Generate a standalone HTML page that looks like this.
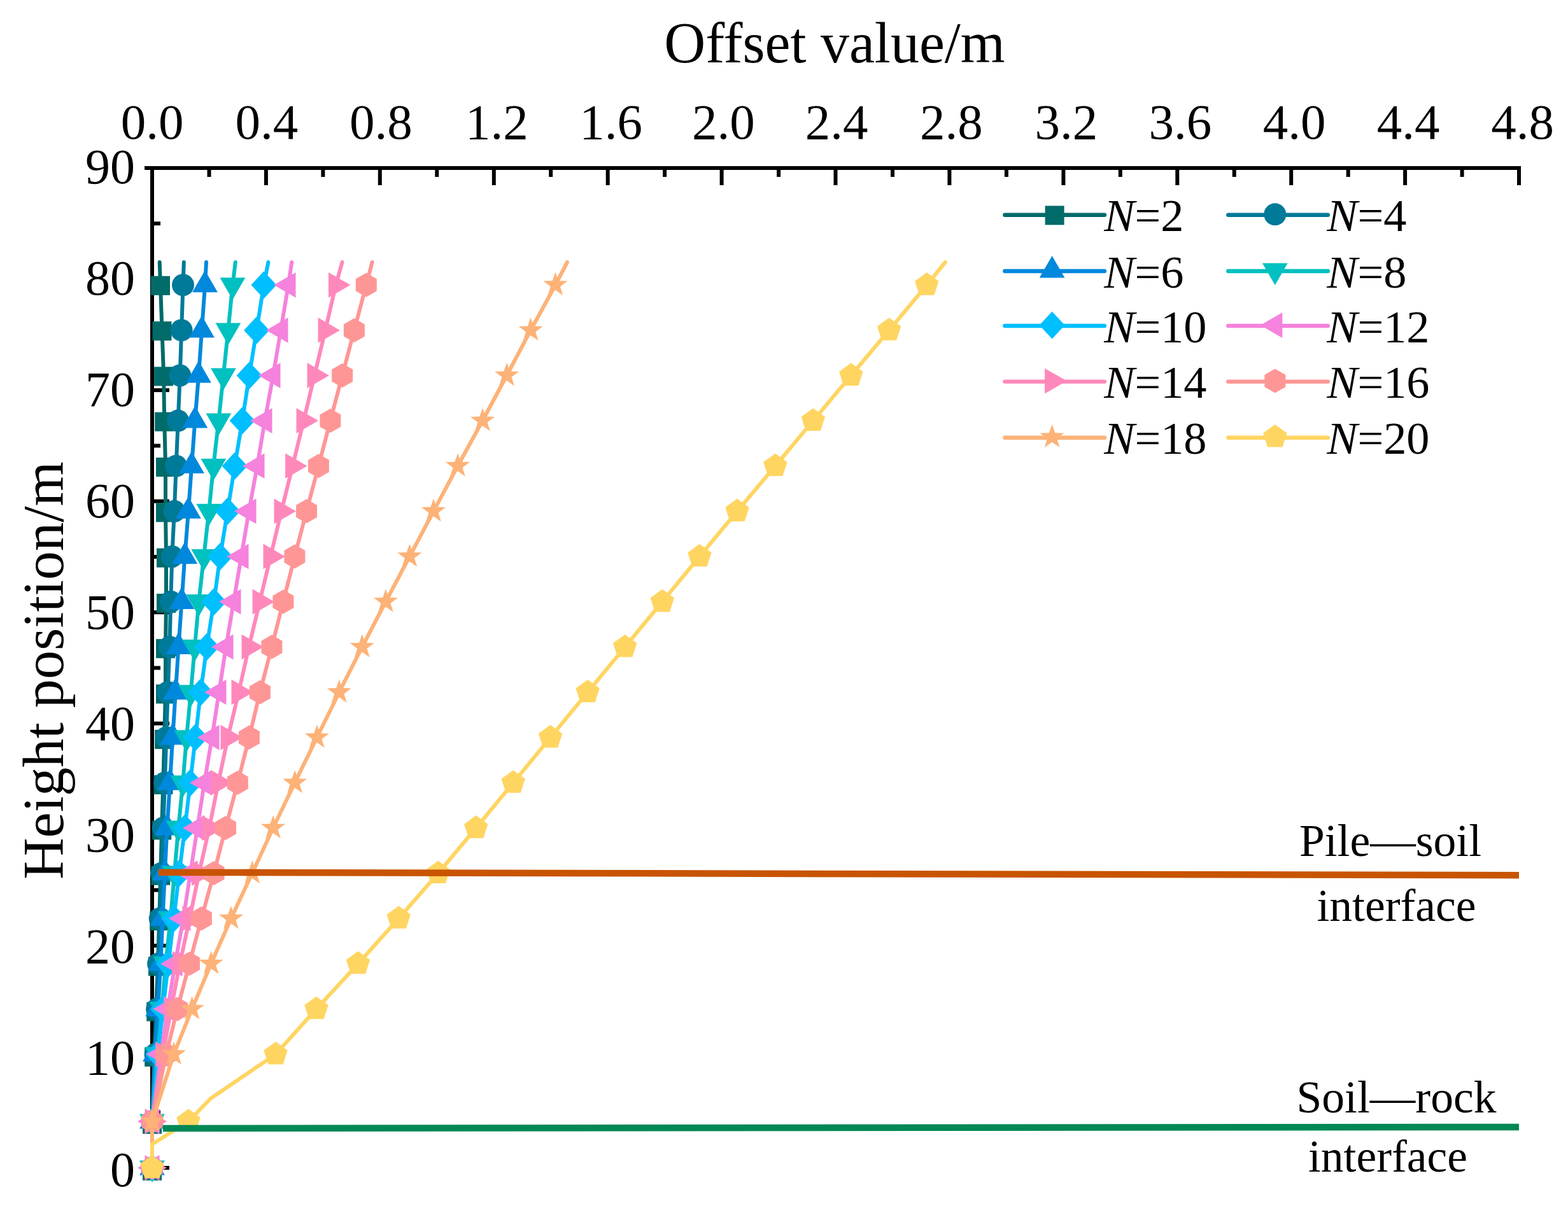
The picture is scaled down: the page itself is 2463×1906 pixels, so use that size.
<!DOCTYPE html>
<html><head><meta charset="utf-8"><title>Offset value vs height position</title>
<style>
html,body{margin:0;padding:0;background:#fff;overflow:hidden}
svg{display:block}
text{font-family:"Liberation Serif","Times New Roman",serif;fill:#000}
</style></head><body>
<svg width="2463" height="1906" viewBox="0 0 2463 1906">
<rect width="2463" height="1906" fill="#fff"/>

<text x="1311" y="98" font-size="90" text-anchor="middle">Offset value/m</text>
<text transform="translate(98.8,1053.4) rotate(-90)" font-size="90.6" text-anchor="middle">Height position/m</text>
<text x="239" y="217.7" font-size="79" text-anchor="middle">0.0</text>
<text x="418.9" y="217.7" font-size="79" text-anchor="middle">0.4</text>
<text x="598.3" y="217.7" font-size="79" text-anchor="middle">0.8</text>
<text x="780.3" y="217.7" font-size="79" text-anchor="middle">1.2</text>
<text x="959.7" y="217.7" font-size="79" text-anchor="middle">1.6</text>
<text x="1136.3" y="217.7" font-size="79" text-anchor="middle">2.0</text>
<text x="1314.1" y="217.7" font-size="79" text-anchor="middle">2.4</text>
<text x="1494.4" y="217.7" font-size="79" text-anchor="middle">2.8</text>
<text x="1674.9" y="217.7" font-size="79" text-anchor="middle">3.2</text>
<text x="1853.8" y="217.7" font-size="79" text-anchor="middle">3.6</text>
<text x="2033.2" y="217.7" font-size="79" text-anchor="middle">4.0</text>
<text x="2212.1" y="217.7" font-size="79" text-anchor="middle">4.4</text>
<text x="2391.5" y="217.7" font-size="79" text-anchor="middle">4.8</text>
<text x="212" y="1863.5" font-size="78" text-anchor="end">0</text>
<text x="212" y="1688.4" font-size="78" text-anchor="end">10</text>
<text x="212" y="1513.3" font-size="78" text-anchor="end">20</text>
<text x="212" y="1338.2" font-size="78" text-anchor="end">30</text>
<text x="212" y="1163" font-size="78" text-anchor="end">40</text>
<text x="212" y="987.9" font-size="78" text-anchor="end">50</text>
<text x="212" y="812.8" font-size="78" text-anchor="end">60</text>
<text x="212" y="637.7" font-size="78" text-anchor="end">70</text>
<text x="212" y="462.6" font-size="78" text-anchor="end">80</text>
<text x="212" y="287.5" font-size="78" text-anchor="end">90</text>
<g stroke="#000" stroke-width="6" fill="none">
<path d="M227,264 H2389"/>
<path d="M239,261 V1838"/>
<path d="M239,264 v27"/>
<path d="M328.5,264 v14"/>
<path d="M417.9,264 v27"/>
<path d="M507.4,264 v14"/>
<path d="M596.8,264 v27"/>
<path d="M686.3,264 v14"/>
<path d="M775.8,264 v27"/>
<path d="M865.2,264 v14"/>
<path d="M954.7,264 v27"/>
<path d="M1044.1,264 v14"/>
<path d="M1133.6,264 v27"/>
<path d="M1223.1,264 v14"/>
<path d="M1312.5,264 v27"/>
<path d="M1402,264 v14"/>
<path d="M1491.4,264 v27"/>
<path d="M1580.9,264 v14"/>
<path d="M1670.4,264 v27"/>
<path d="M1759.8,264 v14"/>
<path d="M1849.3,264 v27"/>
<path d="M1938.7,264 v14"/>
<path d="M2028.2,264 v27"/>
<path d="M2117.7,264 v14"/>
<path d="M2207.1,264 v27"/>
<path d="M2296.6,264 v14"/>
<path d="M2386,264 v27"/>
<path d="M239,1835 h27"/>
<path d="M239,1747.7 h13"/>
<path d="M239,1660.4 h27"/>
<path d="M239,1573.2 h13"/>
<path d="M239,1485.9 h27"/>
<path d="M239,1398.6 h13"/>
<path d="M239,1311.3 h27"/>
<path d="M239,1224 h13"/>
<path d="M239,1136.8 h27"/>
<path d="M239,1049.5 h13"/>
<path d="M239,962.2 h27"/>
<path d="M239,874.9 h13"/>
<path d="M239,787.6 h27"/>
<path d="M239,700.4 h13"/>
<path d="M239,613.1 h27"/>
<path d="M239,525.8 h13"/>
<path d="M239,438.5 h27"/>
<path d="M239,351.2 h13"/>
<path d="M239,264 h27"/>
</g>
<g fill="#006b69"><path d="M250.7,412 L252,447.8 L254.5,518.9 L257.1,590 L258.2,661.1 L260,732.2 L260,803.3 L261,874.4 L261,945.5 L260,1016.6 L260,1087.7 L258.2,1158.8 L256.4,1229.9 L254.2,1301 L252.3,1372.1 L250.2,1443.2 L248,1514.3 L245.2,1585.4 L242.2,1656.5 L239,1762 L239,1835" fill="none" stroke="#006b69" stroke-width="6" stroke-linejoin="round" stroke-linecap="round"/>
<rect x="237" y="433.8" width="30" height="30"/>
<rect x="239.5" y="505.1" width="30" height="30"/>
<rect x="242.1" y="576.4" width="30" height="30"/>
<rect x="243.2" y="647.7" width="30" height="30"/>
<rect x="245" y="719" width="30" height="30"/>
<rect x="245" y="790.3" width="30" height="30"/>
<rect x="246" y="861.6" width="30" height="30"/>
<rect x="246" y="932.9" width="30" height="30"/>
<rect x="245" y="1004.2" width="30" height="30"/>
<rect x="245" y="1075.5" width="30" height="30"/>
<rect x="243.2" y="1146.8" width="30" height="30"/>
<rect x="241.4" y="1218.1" width="30" height="30"/>
<rect x="239.2" y="1289.4" width="30" height="30"/>
<rect x="237.3" y="1360.7" width="30" height="30"/>
<rect x="235.2" y="1432" width="30" height="30"/>
<rect x="233" y="1503.3" width="30" height="30"/>
<rect x="230.2" y="1574.6" width="30" height="30"/>
<rect x="227.2" y="1645.9" width="30" height="30"/>
<rect x="224" y="1751.6" width="30" height="30"/>
<rect x="224" y="1824.8" width="30" height="30"/>
</g>
<g fill="#007a99"><path d="M288.8,412 L287.5,447.8 L285.1,518.9 L282.7,590 L279.7,661.1 L276.7,732.2 L273.8,803.3 L270.3,874.4 L268.2,945.5 L266.4,1016.6 L263.6,1087.7 L261.2,1158.8 L258.9,1229.9 L256.3,1301 L253.7,1372.1 L251.3,1443.2 L248.6,1514.3 L246.6,1585.4 L244,1656.5 L239,1762 L239,1835" fill="none" stroke="#007a99" stroke-width="6" stroke-linejoin="round" stroke-linecap="round"/>
<circle cx="287.5" cy="447.8" r="17.5"/>
<circle cx="285.1" cy="518.9" r="17.5"/>
<circle cx="282.7" cy="590" r="17.5"/>
<circle cx="279.7" cy="661.1" r="17.5"/>
<circle cx="276.7" cy="732.2" r="17.5"/>
<circle cx="273.8" cy="803.3" r="17.5"/>
<circle cx="270.3" cy="874.4" r="17.5"/>
<circle cx="268.2" cy="945.5" r="17.5"/>
<circle cx="266.4" cy="1016.6" r="17.5"/>
<circle cx="263.6" cy="1087.7" r="17.5"/>
<circle cx="261.2" cy="1158.8" r="17.5"/>
<circle cx="258.9" cy="1229.9" r="17.5"/>
<circle cx="256.3" cy="1301" r="17.5"/>
<circle cx="253.7" cy="1372.1" r="17.5"/>
<circle cx="251.3" cy="1443.2" r="17.5"/>
<circle cx="248.6" cy="1514.3" r="17.5"/>
<circle cx="246.6" cy="1585.4" r="17.5"/>
<circle cx="244" cy="1656.5" r="17.5"/>
<circle cx="239" cy="1762" r="17.5"/>
<circle cx="239" cy="1835" r="17.5"/>
</g>
<g fill="#0088dd"><path d="M324,412 L322,447.8 L317,518.9 L312,590 L306.3,661.1 L301,732.2 L295.9,803.3 L290.3,874.4 L285.4,945.5 L280.4,1016.6 L275.8,1087.7 L271.2,1158.8 L267,1229.9 L262.5,1301 L258.9,1372.1 L255.5,1443.2 L252.4,1514.3 L248.1,1585.4 L243.9,1656.5 L239,1762 L239,1835" fill="none" stroke="#0088dd" stroke-width="6" stroke-linejoin="round" stroke-linecap="round"/>
<polygon points="322,424.8 341.9,459.3 302.1,459.3"/>
<polygon points="317,495.9 336.9,530.4 297.1,530.4"/>
<polygon points="312,567 331.9,601.5 292.1,601.5"/>
<polygon points="306.3,638.1 326.2,672.6 286.4,672.6"/>
<polygon points="301,709.2 320.9,743.7 281.1,743.7"/>
<polygon points="295.9,780.3 315.8,814.8 276,814.8"/>
<polygon points="290.3,851.4 310.2,885.9 270.4,885.9"/>
<polygon points="285.4,922.5 305.3,957 265.5,957"/>
<polygon points="280.4,993.6 300.3,1028.1 260.5,1028.1"/>
<polygon points="275.8,1064.7 295.7,1099.2 255.9,1099.2"/>
<polygon points="271.2,1135.8 291.1,1170.3 251.3,1170.3"/>
<polygon points="267,1206.9 286.9,1241.4 247.1,1241.4"/>
<polygon points="262.5,1278 282.4,1312.5 242.6,1312.5"/>
<polygon points="258.9,1349.1 278.8,1383.6 239,1383.6"/>
<polygon points="255.5,1420.2 275.4,1454.7 235.6,1454.7"/>
<polygon points="252.4,1491.3 272.3,1525.8 232.5,1525.8"/>
<polygon points="248.1,1562.4 268,1596.9 228.2,1596.9"/>
<polygon points="243.9,1633.5 263.8,1668 224,1668"/>
<polygon points="239,1739 258.9,1773.5 219.1,1773.5"/>
<polygon points="239,1812 258.9,1846.5 219.1,1846.5"/>
</g>
<g fill="#00c0c0"><path d="M369.8,412 L365.4,447.8 L358.4,518.9 L350.9,590 L343.4,661.1 L335.3,732.2 L328.2,803.3 L320.2,874.4 L312.3,945.5 L305.9,1016.6 L299.8,1087.7 L293,1158.8 L287.2,1229.9 L280.2,1301 L274,1372.1 L267.9,1443.2 L260.2,1514.3 L254.3,1585.4 L247.2,1656.5 L239,1762 L239,1835" fill="none" stroke="#00c0c0" stroke-width="6" stroke-linejoin="round" stroke-linecap="round"/>
<polygon points="365.4,470.8 345.5,436.3 385.3,436.3"/>
<polygon points="358.4,541.9 338.5,507.4 378.3,507.4"/>
<polygon points="350.9,613 331,578.5 370.8,578.5"/>
<polygon points="343.4,684.1 323.5,649.6 363.3,649.6"/>
<polygon points="335.3,755.2 315.4,720.7 355.2,720.7"/>
<polygon points="328.2,826.3 308.3,791.8 348.1,791.8"/>
<polygon points="320.2,897.4 300.3,862.9 340.1,862.9"/>
<polygon points="312.3,968.5 292.4,934 332.2,934"/>
<polygon points="305.9,1039.6 286,1005.1 325.8,1005.1"/>
<polygon points="299.8,1110.7 279.9,1076.2 319.7,1076.2"/>
<polygon points="293,1181.8 273.1,1147.3 312.9,1147.3"/>
<polygon points="287.2,1252.9 267.3,1218.4 307.1,1218.4"/>
<polygon points="280.2,1324 260.3,1289.5 300.1,1289.5"/>
<polygon points="274,1395.1 254.1,1360.6 293.9,1360.6"/>
<polygon points="267.9,1466.2 248,1431.7 287.8,1431.7"/>
<polygon points="260.2,1537.3 240.3,1502.8 280.1,1502.8"/>
<polygon points="254.3,1608.4 234.4,1573.9 274.2,1573.9"/>
<polygon points="247.2,1679.5 227.3,1645 267.1,1645"/>
<polygon points="239,1785 219.1,1750.5 258.9,1750.5"/>
<polygon points="239,1858 219.1,1823.5 258.9,1823.5"/>
</g>
<g fill="#00bfff"><path d="M421.4,412 L414.4,447.8 L403.1,518.9 L391.6,590 L380.6,661.1 L368.7,732.2 L357.5,803.3 L345.8,874.4 L336,945.5 L324.8,1016.6 L315.2,1087.7 L307,1158.8 L298.8,1229.9 L290.4,1301 L281.5,1372.1 L273,1443.2 L264.4,1514.3 L256,1585.4 L248.2,1656.5 L239,1762 L239,1835" fill="none" stroke="#00bfff" stroke-width="6" stroke-linejoin="round" stroke-linecap="round"/>
<polygon points="414.4,426.3 434.4,447.8 414.4,469.3 394.4,447.8"/>
<polygon points="403.1,497.4 423.1,518.9 403.1,540.4 383.1,518.9"/>
<polygon points="391.6,568.5 411.6,590 391.6,611.5 371.6,590"/>
<polygon points="380.6,639.6 400.6,661.1 380.6,682.6 360.6,661.1"/>
<polygon points="368.7,710.7 388.7,732.2 368.7,753.7 348.7,732.2"/>
<polygon points="357.5,781.8 377.5,803.3 357.5,824.8 337.5,803.3"/>
<polygon points="345.8,852.9 365.8,874.4 345.8,895.9 325.8,874.4"/>
<polygon points="336,924 356,945.5 336,967 316,945.5"/>
<polygon points="324.8,995.1 344.8,1016.6 324.8,1038.1 304.8,1016.6"/>
<polygon points="315.2,1066.2 335.2,1087.7 315.2,1109.2 295.2,1087.7"/>
<polygon points="307,1137.3 327,1158.8 307,1180.3 287,1158.8"/>
<polygon points="298.8,1208.4 318.8,1229.9 298.8,1251.4 278.8,1229.9"/>
<polygon points="290.4,1279.5 310.4,1301 290.4,1322.5 270.4,1301"/>
<polygon points="281.5,1350.6 301.5,1372.1 281.5,1393.6 261.5,1372.1"/>
<polygon points="273,1421.7 293,1443.2 273,1464.7 253,1443.2"/>
<polygon points="264.4,1492.8 284.4,1514.3 264.4,1535.8 244.4,1514.3"/>
<polygon points="256,1563.9 276,1585.4 256,1606.9 236,1585.4"/>
<polygon points="248.2,1635 268.2,1656.5 248.2,1678 228.2,1656.5"/>
<polygon points="239,1740.5 259,1762 239,1783.5 219,1762"/>
<polygon points="239,1813.5 259,1835 239,1856.5 219,1835"/>
</g>
<g fill="#f582dc"><path d="M458.2,412 L453,447.8 L441,518.9 L429,590 L416,661.1 L404,732.2 L391,803.3 L379,874.4 L367,945.5 L355,1016.6 L344,1087.7 L333,1158.8 L321,1229.9 L310,1301 L299,1372.1 L288,1443.2 L275,1514.3 L263.5,1585.4 L253,1656.5 L239,1762 L239,1835" fill="none" stroke="#f582dc" stroke-width="6" stroke-linejoin="round" stroke-linecap="round"/>
<polygon points="430,447.8 464.5,427.9 464.5,467.7"/>
<polygon points="418,518.9 452.5,499 452.5,538.8"/>
<polygon points="406,590 440.5,570.1 440.5,609.9"/>
<polygon points="393,661.1 427.5,641.2 427.5,681"/>
<polygon points="381,732.2 415.5,712.3 415.5,752.1"/>
<polygon points="368,803.3 402.5,783.4 402.5,823.2"/>
<polygon points="356,874.4 390.5,854.5 390.5,894.3"/>
<polygon points="344,945.5 378.5,925.6 378.5,965.4"/>
<polygon points="332,1016.6 366.5,996.7 366.5,1036.5"/>
<polygon points="321,1087.7 355.5,1067.8 355.5,1107.6"/>
<polygon points="310,1158.8 344.5,1138.9 344.5,1178.7"/>
<polygon points="298,1229.9 332.5,1210 332.5,1249.8"/>
<polygon points="287,1301 321.5,1281.1 321.5,1320.9"/>
<polygon points="276,1372.1 310.5,1352.2 310.5,1392"/>
<polygon points="265,1443.2 299.5,1423.3 299.5,1463.1"/>
<polygon points="252,1514.3 286.5,1494.4 286.5,1534.2"/>
<polygon points="240.5,1585.4 275,1565.5 275,1605.3"/>
<polygon points="230,1656.5 264.5,1636.6 264.5,1676.4"/>
<polygon points="216,1762 250.5,1742.1 250.5,1781.9"/>
<polygon points="216,1835 250.5,1815.1 250.5,1854.9"/>
</g>
<g fill="#ff88bb"><path d="M537.5,412 L527.5,447.8 L511,518.9 L494,590 L477,661.1 L459.6,732.2 L442,803.3 L425,874.4 L408,945.5 L391,1016.6 L375,1087.7 L358,1158.8 L343,1229.9 L328.7,1301 L312.7,1372.1 L297.9,1443.2 L282.5,1514.3 L268.8,1585.4 L255.8,1656.5 L239,1762 L239,1835" fill="none" stroke="#ff88bb" stroke-width="6" stroke-linejoin="round" stroke-linecap="round"/>
<polygon points="550.5,447.8 516,467.7 516,427.9"/>
<polygon points="534,518.9 499.5,538.8 499.5,499"/>
<polygon points="517,590 482.5,609.9 482.5,570.1"/>
<polygon points="500,661.1 465.5,681 465.5,641.2"/>
<polygon points="482.6,732.2 448.1,752.1 448.1,712.3"/>
<polygon points="465,803.3 430.5,823.2 430.5,783.4"/>
<polygon points="448,874.4 413.5,894.3 413.5,854.5"/>
<polygon points="431,945.5 396.5,965.4 396.5,925.6"/>
<polygon points="414,1016.6 379.5,1036.5 379.5,996.7"/>
<polygon points="398,1087.7 363.5,1107.6 363.5,1067.8"/>
<polygon points="381,1158.8 346.5,1178.7 346.5,1138.9"/>
<polygon points="366,1229.9 331.5,1249.8 331.5,1210"/>
<polygon points="351.7,1301 317.2,1320.9 317.2,1281.1"/>
<polygon points="335.7,1372.1 301.2,1392 301.2,1352.2"/>
<polygon points="320.9,1443.2 286.4,1463.1 286.4,1423.3"/>
<polygon points="305.5,1514.3 271,1534.2 271,1494.4"/>
<polygon points="291.8,1585.4 257.3,1605.3 257.3,1565.5"/>
<polygon points="278.8,1656.5 244.3,1676.4 244.3,1636.6"/>
<polygon points="262,1762 227.5,1781.9 227.5,1742.1"/>
<polygon points="262,1835 227.5,1854.9 227.5,1815.1"/>
</g>
<g fill="#ff9696"><path d="M584.6,412 L575.3,447.8 L556.4,518.9 L537.7,590 L518.9,661.1 L500.4,732.2 L481.5,803.3 L462.9,874.4 L444.9,945.5 L426.9,1016.6 L408.4,1087.7 L391.4,1158.8 L373.3,1229.9 L354.4,1301 L336,1372.1 L316.4,1443.2 L297.5,1514.3 L278.6,1585.4 L261,1656.5 L239,1762 L239,1835" fill="none" stroke="#ff9696" stroke-width="6" stroke-linejoin="round" stroke-linecap="round"/>
<polygon points="575.3,428.8 591.8,438.3 591.8,457.3 575.3,466.8 558.8,457.3 558.8,438.3"/>
<polygon points="556.4,499.9 572.9,509.4 572.9,528.4 556.4,537.9 539.9,528.4 539.9,509.4"/>
<polygon points="537.7,571 554.2,580.5 554.2,599.5 537.7,609 521.2,599.5 521.2,580.5"/>
<polygon points="518.9,642.1 535.4,651.6 535.4,670.6 518.9,680.1 502.4,670.6 502.4,651.6"/>
<polygon points="500.4,713.2 516.9,722.7 516.9,741.7 500.4,751.2 483.9,741.7 483.9,722.7"/>
<polygon points="481.5,784.3 498,793.8 498,812.8 481.5,822.3 465,812.8 465,793.8"/>
<polygon points="462.9,855.4 479.4,864.9 479.4,883.9 462.9,893.4 446.4,883.9 446.4,864.9"/>
<polygon points="444.9,926.5 461.4,936 461.4,955 444.9,964.5 428.4,955 428.4,936"/>
<polygon points="426.9,997.6 443.4,1007.1 443.4,1026.1 426.9,1035.6 410.4,1026.1 410.4,1007.1"/>
<polygon points="408.4,1068.7 424.9,1078.2 424.9,1097.2 408.4,1106.7 391.9,1097.2 391.9,1078.2"/>
<polygon points="391.4,1139.8 407.9,1149.3 407.9,1168.3 391.4,1177.8 374.9,1168.3 374.9,1149.3"/>
<polygon points="373.3,1210.9 389.8,1220.4 389.8,1239.4 373.3,1248.9 356.8,1239.4 356.8,1220.4"/>
<polygon points="354.4,1282 370.9,1291.5 370.9,1310.5 354.4,1320 337.9,1310.5 337.9,1291.5"/>
<polygon points="336,1353.1 352.5,1362.6 352.5,1381.6 336,1391.1 319.5,1381.6 319.5,1362.6"/>
<polygon points="316.4,1424.2 332.9,1433.7 332.9,1452.7 316.4,1462.2 299.9,1452.7 299.9,1433.7"/>
<polygon points="297.5,1495.3 314,1504.8 314,1523.8 297.5,1533.3 281,1523.8 281,1504.8"/>
<polygon points="278.6,1566.4 295.1,1575.9 295.1,1594.9 278.6,1604.4 262.1,1594.9 262.1,1575.9"/>
<polygon points="261,1637.5 277.5,1647 277.5,1666 261,1675.5 244.5,1666 244.5,1647"/>
<polygon points="239,1743 255.5,1752.5 255.5,1771.5 239,1781 222.5,1771.5 222.5,1752.5"/>
<polygon points="239,1816 255.5,1825.5 255.5,1844.5 239,1854 222.5,1844.5 222.5,1825.5"/>
</g>
<g fill="#fdb277"><path d="M891,412 L872.4,447.8 L833.6,518.9 L796,590 L758,661.1 L719,732.2 L681,803.3 L643.4,874.4 L605.9,945.5 L568.8,1016.6 L532.8,1087.7 L497.9,1158.8 L463.1,1229.9 L429,1301 L396.2,1372.1 L362.9,1443.2 L331.6,1514.3 L301.6,1585.4 L273,1656.5 L239,1762 L239,1835" fill="none" stroke="#fdb277" stroke-width="6" stroke-linejoin="round" stroke-linecap="round"/>
<polygon points="872.4,427.8 877.1,441.3 891.4,441.6 880,450.3 884.2,464 872.4,455.8 860.6,464 864.8,450.3 853.4,441.6 867.7,441.3"/>
<polygon points="833.6,498.9 838.3,512.4 852.6,512.7 841.2,521.4 845.4,535.1 833.6,526.9 821.8,535.1 826,521.4 814.6,512.7 828.9,512.4"/>
<polygon points="796,570 800.7,583.5 815,583.8 803.6,592.5 807.8,606.2 796,598 784.2,606.2 788.4,592.5 777,583.8 791.3,583.5"/>
<polygon points="758,641.1 762.7,654.6 777,654.9 765.6,663.6 769.8,677.3 758,669.1 746.2,677.3 750.4,663.6 739,654.9 753.3,654.6"/>
<polygon points="719,712.2 723.7,725.7 738,726 726.6,734.7 730.8,748.4 719,740.2 707.2,748.4 711.4,734.7 700,726 714.3,725.7"/>
<polygon points="681,783.3 685.7,796.8 700,797.1 688.6,805.8 692.8,819.5 681,811.3 669.2,819.5 673.4,805.8 662,797.1 676.3,796.8"/>
<polygon points="643.4,854.4 648.1,867.9 662.4,868.2 651,876.9 655.2,890.6 643.4,882.4 631.6,890.6 635.8,876.9 624.4,868.2 638.7,867.9"/>
<polygon points="605.9,925.5 610.6,939 624.9,939.3 613.5,948 617.7,961.7 605.9,953.5 594.1,961.7 598.3,948 586.9,939.3 601.2,939"/>
<polygon points="568.8,996.6 573.5,1010.1 587.8,1010.4 576.4,1019.1 580.6,1032.8 568.8,1024.6 557,1032.8 561.2,1019.1 549.8,1010.4 564.1,1010.1"/>
<polygon points="532.8,1067.7 537.5,1081.2 551.8,1081.5 540.4,1090.2 544.6,1103.9 532.8,1095.7 521,1103.9 525.2,1090.2 513.8,1081.5 528.1,1081.2"/>
<polygon points="497.9,1138.8 502.6,1152.3 516.9,1152.6 505.5,1161.3 509.7,1175 497.9,1166.8 486.1,1175 490.3,1161.3 478.9,1152.6 493.2,1152.3"/>
<polygon points="463.1,1209.9 467.8,1223.4 482.1,1223.7 470.7,1232.4 474.9,1246.1 463.1,1237.9 451.3,1246.1 455.5,1232.4 444.1,1223.7 458.4,1223.4"/>
<polygon points="429,1281 433.7,1294.5 448,1294.8 436.6,1303.5 440.8,1317.2 429,1309 417.2,1317.2 421.4,1303.5 410,1294.8 424.3,1294.5"/>
<polygon points="396.2,1352.1 400.9,1365.6 415.2,1365.9 403.8,1374.6 408,1388.3 396.2,1380.1 384.4,1388.3 388.6,1374.6 377.2,1365.9 391.5,1365.6"/>
<polygon points="362.9,1423.2 367.6,1436.7 381.9,1437 370.5,1445.7 374.7,1459.4 362.9,1451.2 351.1,1459.4 355.3,1445.7 343.9,1437 358.2,1436.7"/>
<polygon points="331.6,1494.3 336.3,1507.8 350.6,1508.1 339.2,1516.8 343.4,1530.5 331.6,1522.3 319.8,1530.5 324,1516.8 312.6,1508.1 326.9,1507.8"/>
<polygon points="301.6,1565.4 306.3,1578.9 320.6,1579.2 309.2,1587.9 313.4,1601.6 301.6,1593.4 289.8,1601.6 294,1587.9 282.6,1579.2 296.9,1578.9"/>
<polygon points="273,1636.5 277.7,1650 292,1650.3 280.6,1659 284.8,1672.7 273,1664.5 261.2,1672.7 265.4,1659 254,1650.3 268.3,1650"/>
<polygon points="239,1742 243.7,1755.5 258,1755.8 246.6,1764.5 250.8,1778.2 239,1770 227.2,1778.2 231.4,1764.5 220,1755.8 234.3,1755.5"/>
<polygon points="239,1815 243.7,1828.5 258,1828.8 246.6,1837.5 250.8,1851.2 239,1843 227.2,1851.2 231.4,1837.5 220,1828.8 234.3,1828.5"/>
</g>
<g fill="#ffd562"><path d="M1484.8,412 L1455.8,447.8 L1396.6,518.9 L1336.8,590 L1277.3,661.1 L1217.8,732.2 L1158,803.3 L1098.9,874.4 L1040.3,945.5 L981.7,1016.6 L923.1,1087.7 L864.6,1158.8 L806.2,1229.9 L747.7,1301 L688.3,1372.1 L626.2,1443.2 L562.5,1514.3 L497,1585.4 L433,1656.5 L331,1726 L296,1762 L239,1798 L239,1835" fill="none" stroke="#ffd562" stroke-width="6" stroke-linejoin="round" stroke-linecap="round"/>
<polygon points="1455.8,428.1 1474.5,441.7 1467.4,463.7 1444.2,463.7 1437.1,441.7"/>
<polygon points="1396.6,499.2 1415.3,512.8 1408.2,534.8 1385,534.8 1377.9,512.8"/>
<polygon points="1336.8,570.3 1355.5,583.9 1348.4,605.9 1325.2,605.9 1318.1,583.9"/>
<polygon points="1277.3,641.4 1296,655 1288.9,677 1265.7,677 1258.6,655"/>
<polygon points="1217.8,712.5 1236.5,726.1 1229.4,748.1 1206.2,748.1 1199.1,726.1"/>
<polygon points="1158,783.6 1176.7,797.2 1169.6,819.2 1146.4,819.2 1139.3,797.2"/>
<polygon points="1098.9,854.7 1117.6,868.3 1110.5,890.3 1087.3,890.3 1080.2,868.3"/>
<polygon points="1040.3,925.8 1059,939.4 1051.9,961.4 1028.7,961.4 1021.6,939.4"/>
<polygon points="981.7,996.9 1000.4,1010.5 993.3,1032.5 970.1,1032.5 963,1010.5"/>
<polygon points="923.1,1068 941.8,1081.6 934.7,1103.6 911.5,1103.6 904.4,1081.6"/>
<polygon points="864.6,1139.1 883.3,1152.7 876.2,1174.7 853,1174.7 845.9,1152.7"/>
<polygon points="806.2,1210.2 824.9,1223.8 817.8,1245.8 794.6,1245.8 787.5,1223.8"/>
<polygon points="747.7,1281.3 766.4,1294.9 759.3,1316.9 736.1,1316.9 729,1294.9"/>
<polygon points="688.3,1352.4 707,1366 699.9,1388 676.7,1388 669.6,1366"/>
<polygon points="626.2,1423.5 644.9,1437.1 637.8,1459.1 614.6,1459.1 607.5,1437.1"/>
<polygon points="562.5,1494.6 581.2,1508.2 574.1,1530.2 550.9,1530.2 543.8,1508.2"/>
<polygon points="497,1565.7 515.7,1579.3 508.6,1601.3 485.4,1601.3 478.3,1579.3"/>
<polygon points="433,1636.8 451.7,1650.4 444.6,1672.4 421.4,1672.4 414.3,1650.4"/>
<polygon points="296,1742.3 314.7,1755.9 307.6,1777.9 284.4,1777.9 277.3,1755.9"/>
<polygon points="239,1815.3 257.7,1828.9 250.6,1850.9 227.4,1850.9 220.3,1828.9"/>
</g>
<path d="M249,1370.7 L2386,1375.3" stroke="#c85400" stroke-width="10.5"/>
<path d="M256,1773 L2386,1771" stroke="#008855" stroke-width="10.5"/>
<g fill="#006b69"><path d="M1578.4,337.8 H1734.9" stroke="#006b69" stroke-width="6.4" stroke-linecap="round"/>
<rect x="1641.6" y="323.4" width="30" height="30"/>
</g>
<text x="1734.2" y="363.3" font-size="72.3"><tspan font-style="italic">N</tspan>=2</text>
<g fill="#007a99"><path d="M1929.3,337.8 H2085.8" stroke="#007a99" stroke-width="6.4" stroke-linecap="round"/>
<circle cx="2002.8" cy="336.8" r="17.5"/>
</g>
<text x="2084.2" y="363.3" font-size="72.3"><tspan font-style="italic">N</tspan>=4</text>
<g fill="#0088dd"><path d="M1578.4,426 H1734.9" stroke="#0088dd" stroke-width="6.4" stroke-linecap="round"/>
<polygon points="1652.6,402 1672.5,436.5 1632.7,436.5"/>
</g>
<text x="1734.2" y="451.5" font-size="72.3"><tspan font-style="italic">N</tspan>=6</text>
<g fill="#00c0c0"><path d="M1929.3,426 H2085.8" stroke="#00c0c0" stroke-width="6.4" stroke-linecap="round"/>
<polygon points="2002.8,448 1982.9,413.5 2022.7,413.5"/>
</g>
<text x="2084.2" y="451.5" font-size="72.3"><tspan font-style="italic">N</tspan>=8</text>
<g fill="#00bfff"><path d="M1578.4,512 H1734.9" stroke="#00bfff" stroke-width="6.4" stroke-linecap="round"/>
<polygon points="1652.6,489.5 1672.6,511 1652.6,532.5 1632.6,511"/>
</g>
<text x="1734.2" y="537.5" font-size="72.3"><tspan font-style="italic">N</tspan>=10</text>
<g fill="#f582dc"><path d="M1929.3,512 H2085.8" stroke="#f582dc" stroke-width="6.4" stroke-linecap="round"/>
<polygon points="1979.8,511 2014.3,491.1 2014.3,530.9"/>
</g>
<text x="2084.2" y="537.5" font-size="72.3"><tspan font-style="italic">N</tspan>=12</text>
<g fill="#ff88bb"><path d="M1578.4,599.6 H1734.9" stroke="#ff88bb" stroke-width="6.4" stroke-linecap="round"/>
<polygon points="1675.6,598.6 1641.1,618.5 1641.1,578.7"/>
</g>
<text x="1734.2" y="625.1" font-size="72.3"><tspan font-style="italic">N</tspan>=14</text>
<g fill="#ff9696"><path d="M1929.3,599.6 H2085.8" stroke="#ff9696" stroke-width="6.4" stroke-linecap="round"/>
<polygon points="2002.8,579.6 2019.3,589.1 2019.3,608.1 2002.8,617.6 1986.3,608.1 1986.3,589.1"/>
</g>
<text x="2084.2" y="625.1" font-size="72.3"><tspan font-style="italic">N</tspan>=16</text>
<g fill="#fdb277"><path d="M1578.4,687.7 H1734.9" stroke="#fdb277" stroke-width="6.4" stroke-linecap="round"/>
<polygon points="1652.6,666.7 1657.3,680.2 1671.6,680.5 1660.2,689.2 1664.4,702.9 1652.6,694.7 1640.8,702.9 1645,689.2 1633.6,680.5 1647.9,680.2"/>
</g>
<text x="1734.2" y="713.2" font-size="72.3"><tspan font-style="italic">N</tspan>=18</text>
<g fill="#ffd562"><path d="M1929.3,687.7 H2085.8" stroke="#ffd562" stroke-width="6.4" stroke-linecap="round"/>
<polygon points="2002.8,667 2021.5,680.6 2014.4,702.6 1991.2,702.6 1984.1,680.6"/>
</g>
<text x="2084.2" y="713.2" font-size="72.3"><tspan font-style="italic">N</tspan>=20</text>
<text x="2184" y="1345.3" font-size="71.5" text-anchor="middle">Pile—soil</text>
<text x="2193.5" y="1447" font-size="71.5" text-anchor="middle">interface</text>
<text x="2193.5" y="1747.7" font-size="71.5" text-anchor="middle">Soil—rock</text>
<text x="2180" y="1841" font-size="71.5" text-anchor="middle">interface</text>
</svg></body></html>
